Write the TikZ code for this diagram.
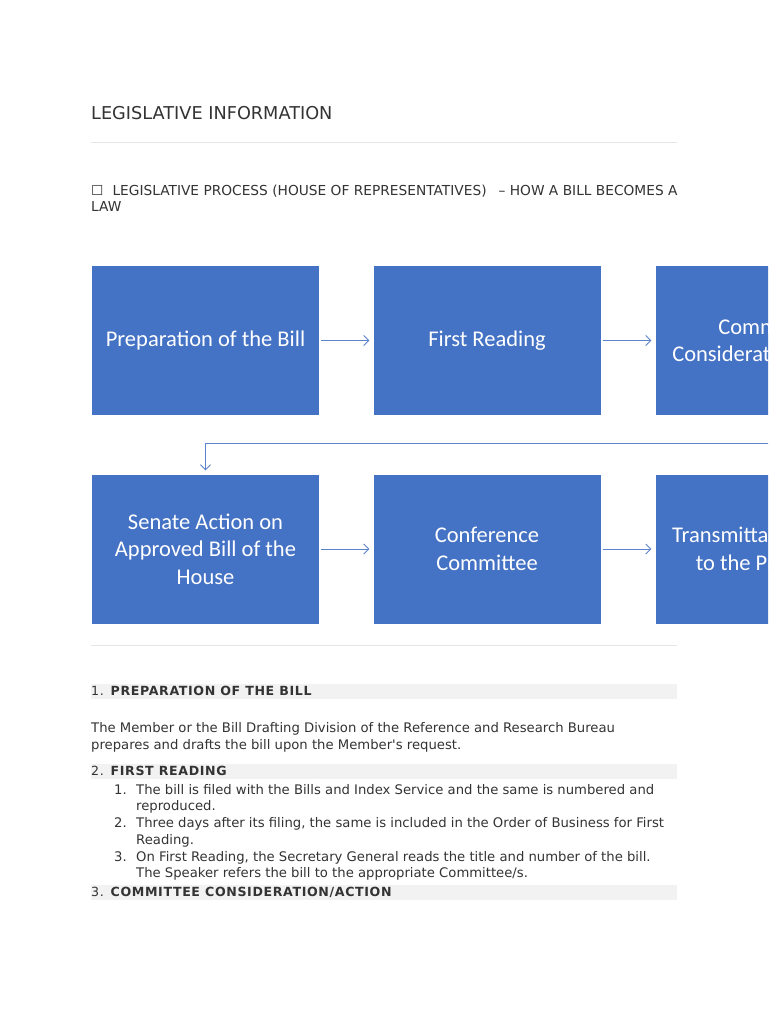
\documentclass[tikz,border=0pt]{standalone}
\usepackage{fontspec}
\newfontfamily\bodyfont{DejaVu Sans}
\newfontfamily\headfont{DejaVu Sans}[LetterSpace=5]
\newfontfamily\boxfont{Carlito}
\usetikzlibrary{arrows.meta}
\definecolor{boxblue}{HTML}{4472C4}
\definecolor{arrowblue}{HTML}{5B83CC}
\definecolor{textgray}{HTML}{333333}
\definecolor{rulegray}{HTML}{E6E6E6}
\definecolor{bandgray}{HTML}{F2F2F2}
\tikzset{
  stepbox/.style={fill=boxblue, draw=none, minimum width=227, minimum height=149,
    inner sep=0, text=white, align=center,
    font=\boxfont\fontsize{22.5}{27.5}\selectfont},
  flow/.style={draw=arrowblue, line width=0.8pt, shorten <=2pt, shorten >=4pt,
    -{Straight Barb[length=5pt,width=10pt,line width=0.8pt]}},
  txt/.style={anchor=base west, inner sep=0, text=textgray,
    font=\bodyfont\fontsize{13.2}{16}\selectfont},
  num/.style={anchor=base east, inner sep=0, text=textgray,
    font=\bodyfont\fontsize{13.2}{16}\selectfont},
  head/.style={anchor=base west, inner sep=0, text=textgray,
    font=\headfont\fontsize{12.6}{15}\selectfont},
  band/.style={fill=bandgray, draw=none},
  hrule/.style={draw=rulegray, line width=1pt}
}
\begin{document}
\begin{tikzpicture}[x=1pt,y=-1pt]
\useasboundingbox (0,0) rectangle (768,1024);
\clip (0,0) rectangle (768,1024);
\fill[white] (0,0) rectangle (768,1024);

% headings
\node[txt, font=\bodyfont\fontsize{17.7}{20}\selectfont] (title) at (91,120) {LEGISLATIVE INFORMATION};
\draw[hrule] (91,143) -- (677,143);
\node[txt, font=\bodyfont\fontsize{13.75}{16}\selectfont] (sub1) at (91,196) {☐\hspace{9pt}LEGISLATIVE PROCESS (HOUSE OF REPRESENTATIVES)\hspace{12pt}– HOW A BILL BECOMES A};
\node[txt, font=\bodyfont\fontsize{13.75}{16}\selectfont] (sub2) at (91,212) {LAW};

% flow boxes
\node[stepbox] (b1) at (205.5,340.5) {Preparation of the Bill};
\node[stepbox] (b2) at (487,340.5) {First Reading};
\node[stepbox] (b3) at (769,340.5) {Committee\\Consideration/Action};
\node[stepbox] (b4) at (205.5,549) {Senate Action on\\Approved Bill of the\\House};
\node[stepbox] (b5) at (487,549) {Conference\\Committee};
\node[stepbox] (b6) at (769,549) {Transmittal of the Bill\\to the President};

\draw[flow] (b1) -- (b2);
\draw[flow] (b2) -- (b3);
\draw[flow] (b4) -- (b5);
\draw[flow] (b5) -- (b6);
\coordinate (turn) at (769,443);
\draw[flow, shorten <=0pt] (b3.south) -- (turn) -| (b4.north);

\draw[hrule] (91,645) -- (677,645);

% section 1
\fill[band] (91,684) rectangle (677,699);
\node[head] (h1) at (91,695.5) {1. \textbf{PREPARATION OF THE BILL}};
\node[txt] (p1) at (91,732) {The Member or the Bill Drafting Division of the Reference and Research Bureau};
\node[txt] (p2) at (91,749) {prepares and drafts the bill upon the Member's request.};

% section 2
\fill[band] (91,764) rectangle (677,779);
\node[head] (h2) at (91,775.5) {2. \textbf{FIRST READING}};
\node[num] (n1) at (127,794) {1.};
\node[txt] (l1a) at (136,794) {The bill is filed with the Bills and Index Service and the same is numbered and};
\node[txt] (l1b) at (136,810.5) {reproduced.};
\node[num] (n2) at (127,827.5) {2.};
\node[txt] (l2a) at (136,827.5) {Three days after its filing, the same is included in the Order of Business for First};
\node[txt] (l2b) at (136,844) {Reading.};
\node[num] (n3) at (127,861) {3.};
\node[txt] (l3a) at (136,861) {On First Reading, the Secretary General reads the title and number of the bill.};
\node[txt] (l3b) at (136,877.5) {The Speaker refers the bill to the appropriate Committee/s.};

% section 3
\fill[band] (91,885) rectangle (677,900);
\node[head] (h3) at (91,896.5) {3. \textbf{COMMITTEE CONSIDERATION/ACTION}};
\end{tikzpicture}
\end{document}
